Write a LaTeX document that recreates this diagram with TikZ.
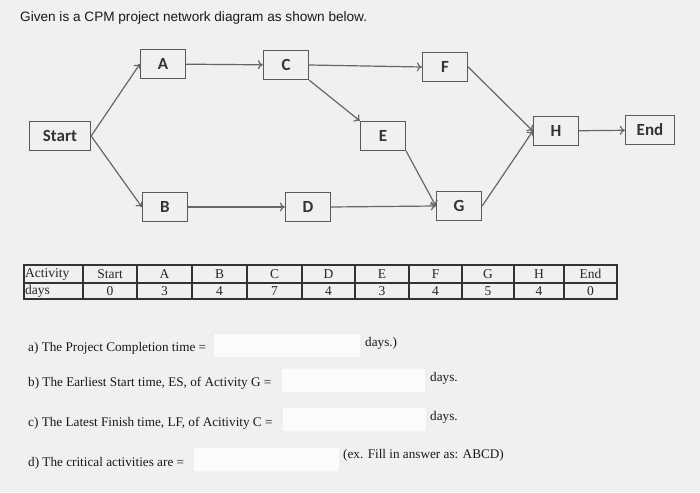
\documentclass[tikz,border=0pt]{standalone}
\usepackage{fontspec}
\setmainfont{Liberation Serif}
\newfontfamily\boxfont{Carlito}
\newfontfamily\titlefont{Liberation Sans}
\usetikzlibrary{arrows.meta}

\tikzset{
  act/.style={draw=black!65, line width=1.3pt, minimum width=45pt, minimum height=29pt,
    inner sep=0pt, font=\boxfont\bfseries\fontsize{17}{17}\selectfont, text=black!80},
  link/.style={-{To[length=5pt, width=9pt]}, draw=black!60, line width=1.2pt},
  tabline/.style={draw=black!80, line width=1.1pt},
  cell/.style={font=\fontsize{13.5}{13.5}\selectfont, text=black!85, inner sep=0pt},
  quest/.style={font=\fontsize{13.2}{13.2}\selectfont, text=black!90, anchor=west, inner sep=0pt},
  answerbox/.style={draw=black!10, fill=white!70!gray!10, rounded corners=2pt, line width=0.6pt},
}

\begin{document}
\begin{tikzpicture}[x=1pt, y=-1pt]
	\useasboundingbox (0,0) rectangle (700,492);
	\fill[gray!12] (0,0) rectangle (700,492);

	% heading
	\node[font=\titlefont\fontsize{13.6}{13.6}\selectfont, text=black!90, anchor=west, inner sep=0pt] (title) at (20,18)
		{Given is a CPM project network diagram as shown below.};

	% activity boxes
	\node[act, minimum width=61pt] (start) at (60,136) {Start};
	\node[act] (a) at (163,64) {A};
	\node[act] (c) at (286,65) {C};
	\node[act] (f) at (445,67) {F};
	\node[act] (b) at (165,207) {B};
	\node[act] (d) at (308,207) {D};
	\node[act] (e) at (383,136) {E};
	\node[act] (g) at (459,206) {G};
	\node[act] (h) at (556,131) {H};
	\node[act, minimum width=49pt] (end) at (650,130) {End};

	% arrows
	\draw[link] (start.east) -- (a.west);
	\draw[link] (start.east) -- (b.west);
	\draw[link] (a) -- (c);
	\draw[link] (c.east) -- (f.west);
	\draw[link] (c.south east) -- (e.north west);
	\draw[link] (b) -- (d);
	\draw[link] (d.east) -- (g.west);
	\draw[link] (e.south east) -- (g.west);
	\draw[link] (f.east) -- (h.west);
	\draw[link] (g.east) -- (h.west);
	\draw[link] (h) -- (end);

	% table grid
	\draw[tabline] (24,265) rectangle (617,299);
	\draw[tabline] (24,283) -- (617,283);
	\draw[tabline] (83,265) -- (83,299);
	\draw[tabline] (137,265) -- (137,299);
	\draw[tabline] (192,265) -- (192,299);
	\draw[tabline] (247,265) -- (247,299);
	\draw[tabline] (302,265) -- (302,299);
	\draw[tabline] (355,265) -- (355,299);
	\draw[tabline] (409,265) -- (409,299);
	\draw[tabline] (462,265) -- (462,299);
	\draw[tabline] (514,265) -- (514,299);
	\draw[tabline] (564,265) -- (564,299);

	% table texts, top row
	\node[cell, anchor=west] (t0) at (25,274) {Activity};
	\node[cell] (t1) at (110,274) {Start};
	\node[cell] (t2) at (164.5,274) {A};
	\node[cell] (t3) at (219.5,274) {B};
	\node[cell] (t4) at (274.5,274) {C};
	\node[cell] (t5) at (328.5,274) {D};
	\node[cell] (t6) at (382,274) {E};
	\node[cell] (t7) at (435.5,274) {F};
	\node[cell] (t8) at (488,274) {G};
	\node[cell] (t9) at (539,274) {H};
	\node[cell] (t10) at (590.5,274) {End};

	% table texts, bottom row
	\node[cell, anchor=west] (d0) at (25,291) {days};
	\node[cell] (d1) at (110,291) {0};
	\node[cell] (d2) at (164.5,291) {3};
	\node[cell] (d3) at (219.5,291) {4};
	\node[cell] (d4) at (274.5,291) {7};
	\node[cell] (d5) at (328.5,291) {4};
	\node[cell] (d6) at (382,291) {3};
	\node[cell] (d7) at (435.5,291) {4};
	\node[cell] (d8) at (488,291) {5};
	\node[cell] (d9) at (539,291) {4};
	\node[cell] (d10) at (590.5,291) {0};

	% questions
	\node[quest] (qa) at (28,348) {a) The Project Completion time =};
	\draw[answerbox] (213,333) rectangle (361,358);
	\node[quest] (ua) at (365,343) {days.)};

	\node[quest] (qb) at (28,383) {b) The Earliest Start time, ES, of Activity G =};
	\draw[answerbox] (281,368) rectangle (426,393);
	\node[quest] (ub) at (430,378) {days.};

	\node[quest] (qc) at (28,423) {c) The Latest Finish time, LF, of Acitivity C =};
	\draw[answerbox] (282,407) rectangle (427,432);
	\node[quest] (uc) at (430,417) {days.};

	\node[quest] (qd) at (28,463) {d) The critical activities are =};
	\draw[answerbox] (193,447) rectangle (340,472);
	\node[quest] (ud) at (343,455) {(ex. Fill in answer as: ABCD)};
\end{tikzpicture}
\end{document}
